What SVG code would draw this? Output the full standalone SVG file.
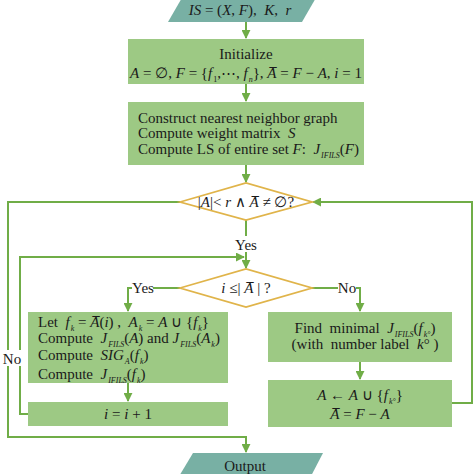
<svg xmlns="http://www.w3.org/2000/svg" width="474" height="474" viewBox="0 0 474 474">
<defs>
<style>
.box{fill:#9dc984;stroke:none}
.para{fill:#78b0a4;stroke:none}
.dia{fill:#ffffff;stroke:#e0b44a;stroke-width:1.8}
.ln{fill:none;stroke:#70ad47;stroke-width:2}
text{font-family:"Liberation Serif","Times New Roman",serif;font-size:15px;fill:#1a1a1a}
.c{text-anchor:middle}
.i{font-style:italic}
.s{font-size:8px;font-style:italic}
</style>
<marker id="ah" viewBox="0 0 10 10" refX="9" refY="5" markerWidth="4.5" markerHeight="4.5" orient="auto" markerUnits="strokeWidth">
<path d="M0,0 L10,5 L0,10 z" fill="#70ad47"/>
</marker>
</defs>

<g id="connectors">
<line class="ln" x1="246" y1="22" x2="246" y2="38" marker-end="url(#ah)"/>
<line class="ln" x1="246" y1="84" x2="246" y2="101" marker-end="url(#ah)"/>
<line class="ln" x1="246" y1="165" x2="246" y2="182" marker-end="url(#ah)"/>
<line class="ln" x1="246" y1="220" x2="246" y2="236"/>
<line class="ln" x1="246" y1="252" x2="246" y2="268" marker-end="url(#ah)"/>
<polyline class="ln" points="180,202 8,202 8,437 246,437 246,452" marker-end="url(#ah)"/>
<polyline class="ln" points="452,403 472,403 472,202 313,202" marker-end="url(#ah)"/>
<polyline class="ln" points="28,414 20,414 20,257 244,257" marker-end="url(#ah)"/>
<line class="ln" x1="180" y1="288" x2="153" y2="288"/>
<polyline class="ln" points="132,288 128,288 128,311" marker-end="url(#ah)"/>
<line class="ln" x1="312" y1="288" x2="338" y2="288"/>
<polyline class="ln" points="356,288 360,288 360,311" marker-end="url(#ah)"/>
<line class="ln" x1="128" y1="383" x2="128" y2="401" marker-end="url(#ah)"/>
<line class="ln" x1="360" y1="362" x2="360" y2="379" marker-end="url(#ah)"/>
<rect x="2" y="350" width="20" height="16" fill="#ffffff"/>
<text x="12" y="364" class="c">No</text>
<text x="246" y="250" class="c">Yes</text>
<text x="143" y="293" class="c">Yes</text>
<text x="347" y="293" class="c">No</text>
</g>

<g id="input">
<polygon class="para" points="183,-4 317,-4 302,22 168,22"/>
<text x="240" y="15" class="c"><tspan class="i">IS</tspan> = (<tspan class="i">X</tspan>, <tspan class="i">F</tspan>),&#160; <tspan class="i">K</tspan>,&#160; <tspan class="i">r</tspan></text>
</g>

<g id="init">
<rect class="box" x="128" y="39" width="236" height="45"/>
<text x="246" y="59" class="c">Initialize</text>
<text x="246" y="78" class="c"><tspan class="i">A</tspan> = ∅, <tspan class="i">F</tspan> = {<tspan class="i">f</tspan><tspan dx="1" dy="4" font-size="8">1</tspan><tspan dy="-4">,⋯, </tspan><tspan class="i">f</tspan><tspan dx="1" dy="4" class="s">n</tspan><tspan dy="-4">}, </tspan><tspan class="i">A&#x305;</tspan> = <tspan class="i">F</tspan> − <tspan class="i">A</tspan>, <tspan class="i">i</tspan> = 1</text>
</g>

<g id="construct">
<rect class="box" x="128" y="102" width="236" height="63"/>
<text x="138" y="123">Construct nearest neighbor graph</text>
<text x="138" y="138">Compute weight matrix&#160; <tspan class="i">S</tspan></text>
<text x="138" y="154">Compute LS of entire set <tspan class="i">F</tspan>:&#160; <tspan class="i">J</tspan><tspan dx="1" dy="4" class="s">IFILS</tspan><tspan dy="-4">(</tspan><tspan class="i">F</tspan>)</text>
</g>

<g id="cond1">
<polygon class="dia" points="180,202 246,183 312,202 246,220"/>
<text x="246" y="207" class="c">|<tspan class="i">A</tspan>|&lt; <tspan class="i">r</tspan> ∧ <tspan class="i">A&#x305;</tspan> ≠ ∅?</text>
</g>

<g id="cond2">
<polygon class="dia" points="180,288 246,269 312,288 246,307"/>
<text x="246" y="293" class="c"><tspan class="i">i</tspan> ≤| <tspan class="i">A&#x305;</tspan> | ?</text>
</g>

<g id="compute">
<rect class="box" x="28" y="312" width="200" height="71"/>
<text x="38" y="327">Let&#160; <tspan class="i">f</tspan><tspan dx="1" dy="4" class="s">k</tspan><tspan dy="-4"> = </tspan><tspan class="i">A&#x305;</tspan>(<tspan class="i">i</tspan>) ,&#160; <tspan class="i">A</tspan><tspan dx="1" dy="4" class="s">k</tspan><tspan dy="-4"> = </tspan><tspan class="i">A</tspan> ∪ {<tspan class="i">f</tspan><tspan dx="1" dy="4" class="s">k</tspan><tspan dy="-4">}</tspan></text>
<text x="38" y="343">Compute&#160; <tspan class="i">J</tspan><tspan dx="1" dy="4" class="s">FILS</tspan><tspan dy="-4">(</tspan><tspan class="i">A</tspan>) and <tspan class="i">J</tspan><tspan dx="1" dy="4" class="s">FILS</tspan><tspan dy="-4">(</tspan><tspan class="i">A</tspan><tspan dx="1" dy="4" class="s">k</tspan><tspan dy="-4">)</tspan></text>
<text x="38" y="360">Compute&#160; <tspan class="i">SIG</tspan><tspan dx="1" dy="4" class="s">A</tspan><tspan dy="-4">(</tspan><tspan class="i">f</tspan><tspan dx="1" dy="4" class="s">k</tspan><tspan dy="-4">)</tspan></text>
<text x="38" y="379">Compute&#160; <tspan class="i">J</tspan><tspan dx="1" dy="4" class="s">IFILS</tspan><tspan dy="-4">(</tspan><tspan class="i">f</tspan><tspan dx="1" dy="4" class="s">k</tspan><tspan dy="-4">)</tspan></text>
</g>

<g id="increment">
<rect class="box" x="28" y="402" width="200" height="24"/>
<text x="128" y="419" class="c"><tspan class="i">i</tspan> = <tspan class="i">i</tspan> + 1</text>
</g>

<g id="findmin">
<rect class="box" x="268" y="312" width="184" height="50"/>
<text x="365" y="333" class="c">Find&#160; minimal&#160; <tspan class="i">J</tspan><tspan dx="1" dy="4" class="s">IFILS</tspan><tspan dy="-4">(</tspan><tspan class="i">f</tspan><tspan dx="1" dy="4" class="s">k°</tspan><tspan dy="-4">)</tspan></text>
<text x="365" y="349" class="c">(with&#160; number label&#160; <tspan class="i">k</tspan>° )</text>
</g>

<g id="update">
<rect class="box" x="268" y="380" width="184" height="47"/>
<text x="360" y="400" class="c"><tspan class="i">A</tspan> ← <tspan class="i">A</tspan> ∪ {<tspan class="i">f</tspan><tspan dx="1" dy="4" class="s">k°</tspan><tspan dy="-4">}</tspan></text>
<text x="360" y="419" class="c"><tspan class="i">A&#x305;</tspan> = <tspan class="i">F</tspan> − <tspan class="i">A</tspan></text>
</g>

<g id="output">
<polygon class="para" points="193,453 323,453 310,478 178,478"/>
<text x="245" y="471" class="c">Output</text>
</g>
</svg>
